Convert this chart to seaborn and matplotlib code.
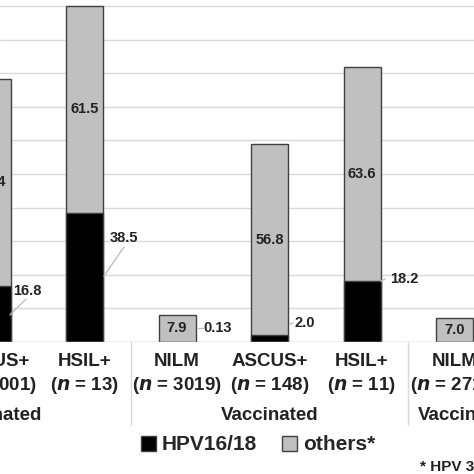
import matplotlib
matplotlib.use('Agg')
import matplotlib.pyplot as plt
from matplotlib.patches import Patch
import seaborn as sns
import pandas as pd

sns.set_style('white')
plt.rcParams['font.family'] = ['Liberation Sans', 'DejaVu Sans']
plt.rcParams['font.weight'] = 'bold'

# Visible categories (left part of first group and right group are cropped)
categories = ['ASCUS+ u', 'HSIL+ u', 'NILM v', 'ASCUS+ v', 'HSIL+ v', 'NILM v2']
tick_names = ['ASCUS+', 'HSIL+', 'NILM', 'ASCUS+', 'HSIL+', 'NILM']
tick_n = ['1001', '13', '3019', '148', '11', '2711']
hpv1618 = [16.8, 38.5, 0.13, 2.0, 18.2, 0.1]
others = [61.4, 61.5, 7.9, 56.8, 63.6, 7.0]
others_labels = ['61.4', '61.5', '7.9', '56.8', '63.6', '7.0']
black_labels = ['16.8', '38.5', '0.13', '2.0', '18.2', '']
groups = ['Unvaccinated', 'Vaccinated', 'Vaccinated']

df = pd.DataFrame({'cat': categories, 'black': hpv1618,
                   'total': [b + o for b, o in zip(hpv1618, others)]})

W, H = 474, 474
fig = plt.figure(figsize=(W / 100, H / 100), dpi=100)
base_px = 342
ax = fig.add_axes([0, 1 - base_px / H, 1, base_px / H])

px_per_cat = 92.5
x0 = 1 - 84.5 / px_per_cat
px_per_unit = 3.36
TXT = '#222222'

def dx(px):
    return x0 + px / px_per_cat

def dy(py):
    return (base_px - py) / px_per_unit

sns.barplot(data=df, x='cat', y='total', color='#c0c0c0', edgecolor='#404040',
            linewidth=1, width=0.4, ax=ax, order=categories)
sns.barplot(data=df, x='cat', y='black', color='black', edgecolor='#404040',
            linewidth=1, width=0.4, ax=ax, order=categories)

ax.set_xlim(x0, x0 + W / px_per_cat)
ax.set_ylim(0, base_px / px_per_unit)
ax.set_yticks(range(0, 101, 10))
ax.yaxis.grid(True, color='#d9d9d9', linewidth=1)
ax.set_axisbelow(True)
for s in ax.spines.values():
    s.set_visible(False)
ax.axhline(0, color='#d0d0d0', linewidth=1)
ax.set_yticklabels([])
ax.set_xticklabels([])
ax.tick_params(left=False, bottom=False)
ax.set_xlabel('')
ax.set_ylabel('')

# others labels inside the grey segments
for i, (b, o, ol) in enumerate(zip(hpv1618, others, others_labels)):
    ax.text(i, b + o / 2, ol, ha='center', va='center', fontsize=10.5,
            fontweight='bold', color=TXT)

# black labels with leader lines: (text px, line start px, line end px)
leaders = [((27, 291), (10, 315), (26, 299)),
           ((124, 238), (104, 276), (124, 247)),
           ((218, 328), (198, 328), (203, 328)),
           ((305, 323), (290, 324), (293, 323)),
           ((404, 279), (381, 281), (385, 279)),
           None]
for lab, ld in zip(black_labels, leaders):
    if ld is None:
        continue
    (tx, ty), (sx, sy), (ex, ey) = ld
    ax.plot([dx(sx), dx(ex)], [dy(sy), dy(ey)], color='#bfbfbf', linewidth=1)
    ax.text(dx(tx), dy(ty), lab, ha='center', va='center', fontsize=10.5,
            fontweight='bold', color=TXT)

# category labels below the axis
for i, (nm, n) in enumerate(zip(tick_names, tick_n)):
    cx = (84.5 + (i - 1) * px_per_cat) / W
    fig.text(cx, 1 - 362 / H, nm, ha='center', va='center', fontsize=13.5,
             fontweight='bold', color=TXT)
    fig.text(cx, 1 - 386 / H, '(' + r'$\mathbf{\mathit{n}}$' + ' = ' + n + ')',
             ha='center', va='center', fontsize=13.5, fontweight='bold', color=TXT)

fig.text(-18 / W, 1 - 415 / H, groups[0], ha='center', va='center', fontsize=13.5,
         fontweight='bold', color=TXT)
fig.text(270 / W, 1 - 415 / H, groups[1], ha='center', va='center', fontsize=13.5,
         fontweight='bold', color=TXT)
fig.text(418 / W, 1 - 415 / H, groups[2], ha='left', va='center', fontsize=13.5,
         fontweight='bold', color=TXT)

for sx in [131, 408]:
    fig.add_artist(plt.Line2D([sx / W, sx / W], [1 - 342 / H, 1 - 425 / H],
                              color='#d9d9d9', linewidth=1))

handles = [Patch(facecolor='black', edgecolor='#404040', label='HPV16/18'),
           Patch(facecolor='#c0c0c0', edgecolor='#404040', label='others*')]
fig.legend(handles=handles, loc='center', bbox_to_anchor=(258 / W, 1 - 445 / H),
           ncol=2, frameon=False, handlelength=0.7, handleheight=0.7,
           handletextpad=0.3, columnspacing=1.2, prop={'weight': 'bold', 'size': 15})
fig.text(420 / W, 1 - 467 / H, '* HPV 31/33/45/52/58', ha='left', va='center',
         fontsize=11, fontweight='bold', color=TXT)

fig.savefig('out.png', dpi=100)
